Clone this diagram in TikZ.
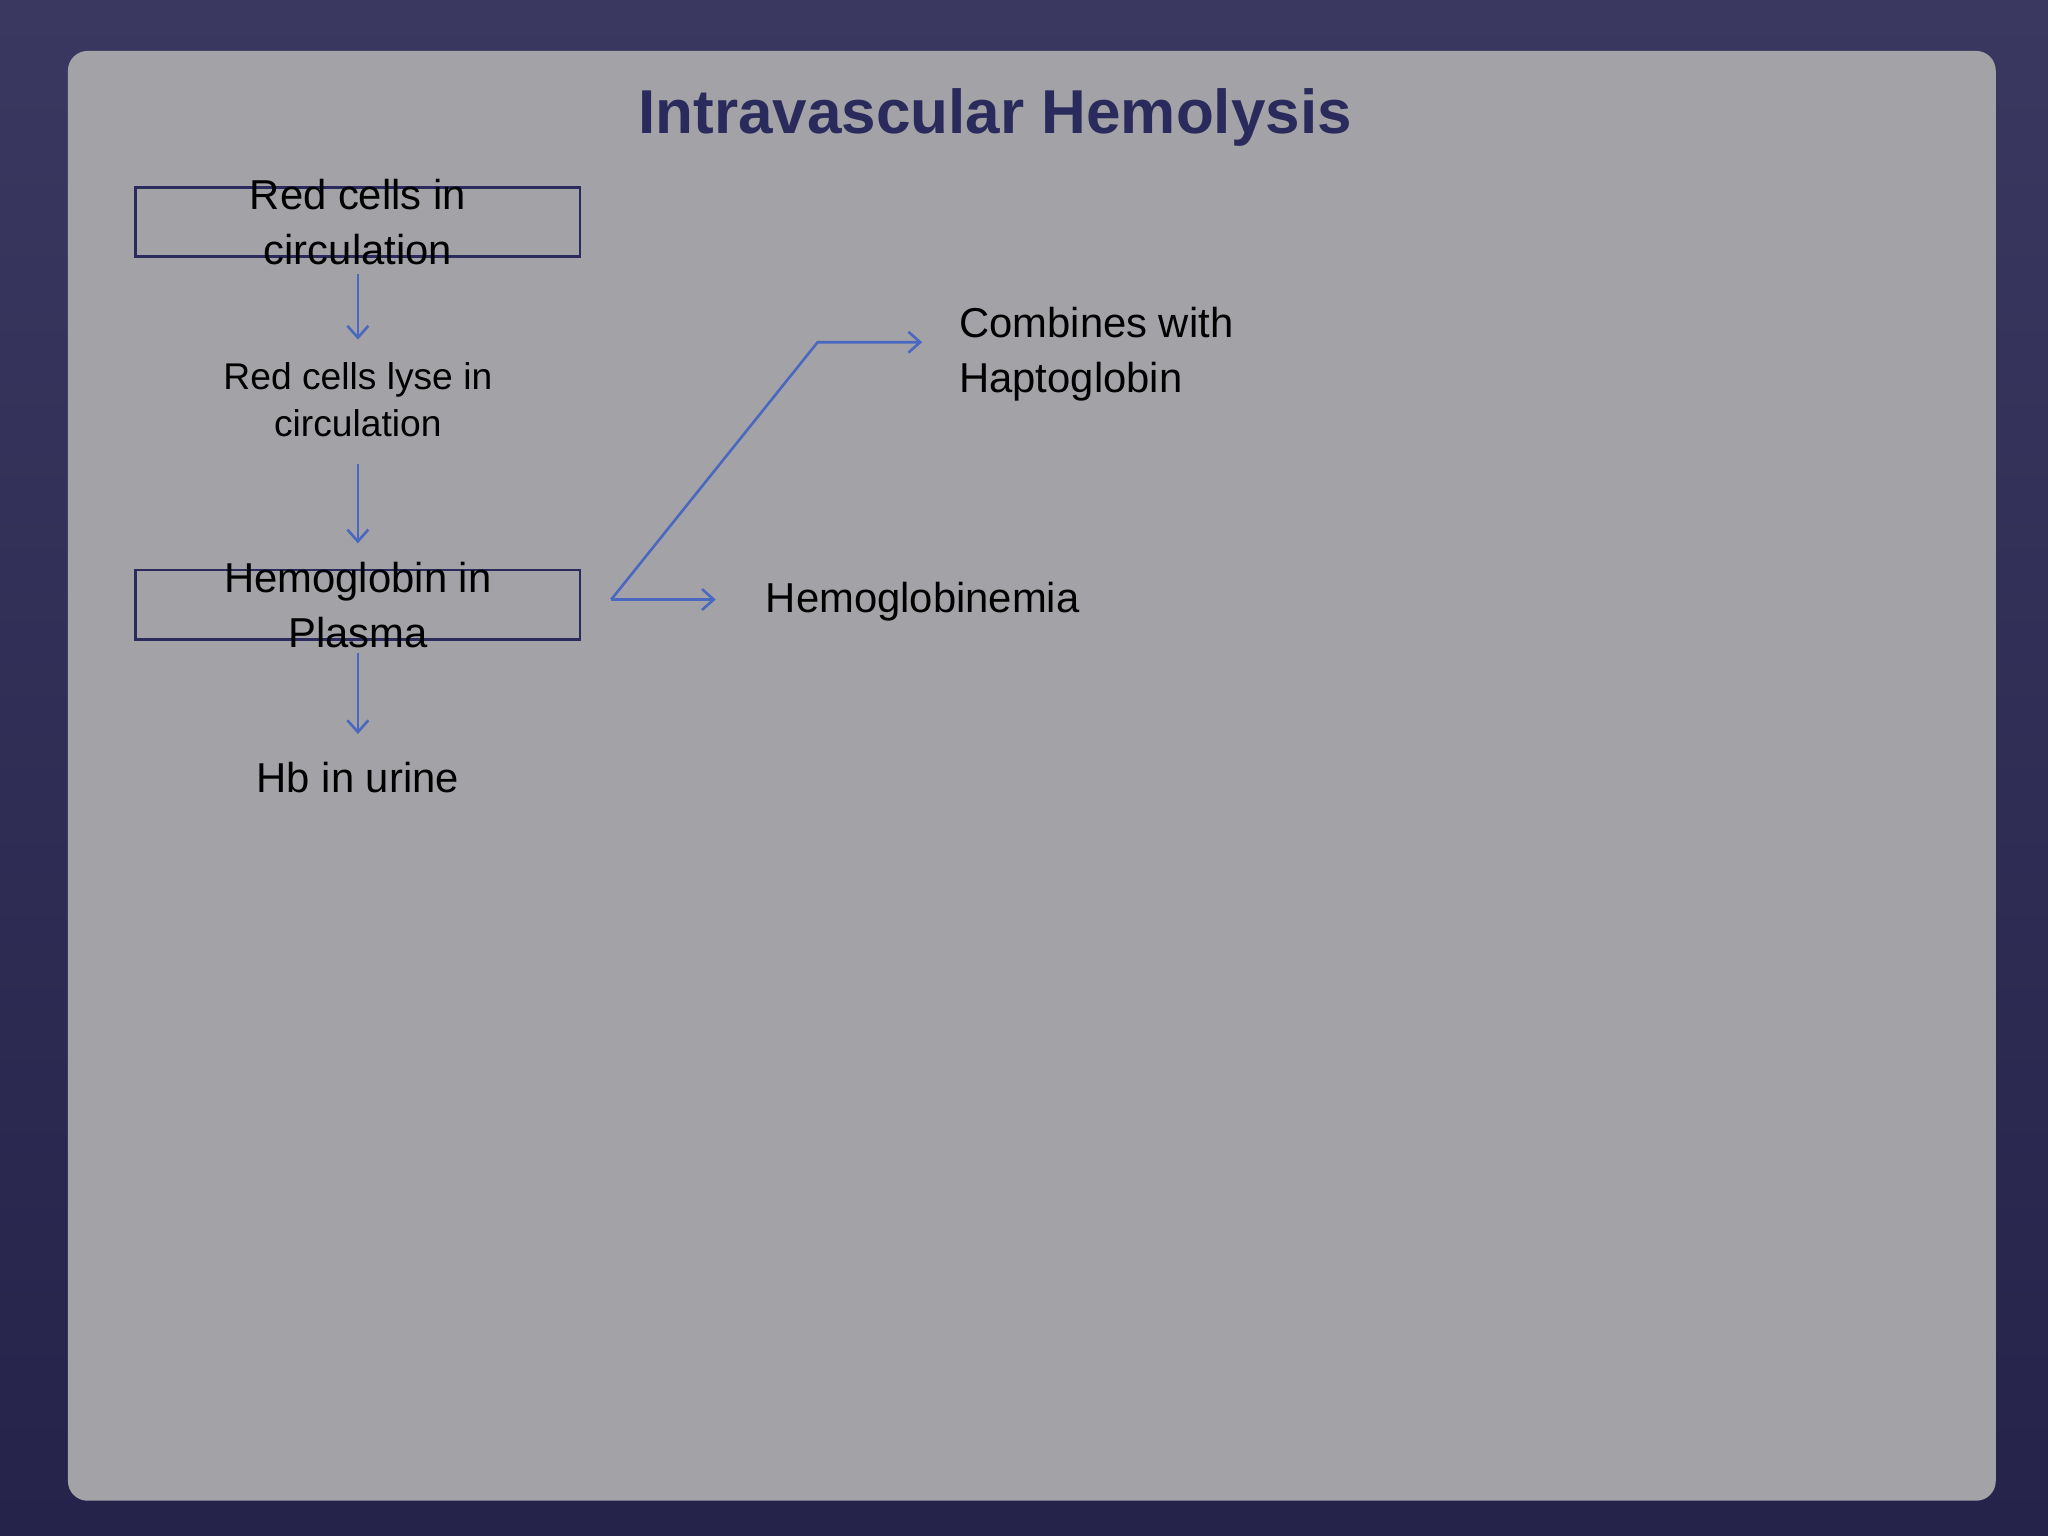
\documentclass[tikz,border=0pt]{standalone}
\usepackage{fontspec}
\setmainfont{Liberation Sans}
\definecolor{bgdark}{HTML}{25234A}
\definecolor{bglight}{HTML}{3A3860}
\definecolor{panel}{HTML}{A3A2A6}
\definecolor{navy}{HTML}{2B2A5C}
\definecolor{arrowblue}{HTML}{4A68C0}
\usetikzlibrary{arrows.meta}
\tikzset{
  box/.style={draw=navy,line width=0.02cm,minimum width=3.4cm,minimum height=0.53cm,inner sep=0pt},
  lbl/.style={align=center,font=\fontsize{9.1pt}{12pt}\selectfont,text=black},
  small/.style={align=center,font=\fontsize{8.1pt}{10.4pt}\selectfont,text=black},
  conn/.style={draw=arrowblue,line width=0.02cm,-{Straight Barb[length=0.09cm,width=0.16cm]}}
}
\begin{document}
\begin{tikzpicture}[x=0.01cm,y=-0.01cm]
\useasboundingbox (0,0) rectangle (1568,1176);
\shade[top color=bglight,bottom color=bgdark] (0,0) rectangle (1568,1176);
\fill[panel,rounded corners=0.15cm] (52,39) rectangle (1528,1149);
\node[font=\bfseries\fontsize{13.5pt}{16pt}\selectfont,text=navy] (title) at (762,90) {Intravascular Hemolysis};
\node[box] (b1) at (274,170) {};
\node[lbl] (t1) at (274,170) {Red cells in\\circulation};
\node[small] (t2) at (274,306) {Red cells lyse in\\circulation};
\node[box] (b2) at (274,463) {};
\node[lbl] (t3) at (274,463) {Hemoglobin in\\Plasma};
\node[lbl] (t4) at (274,595) {Hb in urine};
\node[lbl,align=left,anchor=west] (t5) at (722,271) {Combines with\\Haptoglobin};
\node[lbl,anchor=west] (t6) at (574,461) {Hemoglobinemia};
\coordinate (a1s) at (274,210); \coordinate (a1e) at (274,260);
\coordinate (a2s) at (274,355); \coordinate (a2e) at (274,416);
\coordinate (a3s) at (274,500); \coordinate (a3e) at (274,562);
\coordinate (br) at (468,459); \coordinate (bk) at (626,262);
\coordinate (e1) at (706,262); \coordinate (e2) at (548,459);
\draw[conn] (a1s) -- (a1e);
\draw[conn] (a2s) -- (a2e);
\draw[conn] (a3s) -- (a3e);
\draw[conn] (br) -- (bk) -- (e1);
\draw[conn] (br) -- (e2);
\end{tikzpicture}
\end{document}
